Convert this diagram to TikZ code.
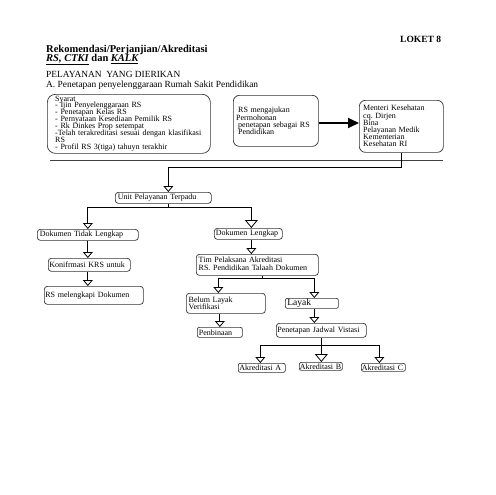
\documentclass[tikz,border=0pt]{standalone}
\usepackage{fontspec}
\setmainfont{Liberation Serif}
\usetikzlibrary{arrows.meta}
\begin{document}
\begin{tikzpicture}[x=1pt,y=-1pt,
  box/.style={draw=black!80, line width=0.7pt, rounded corners=3pt, fill=white,
    inner xsep=2.5pt, inner ysep=0pt, anchor=north west, align=left,
    font=\fontsize{8}{7}\selectfont},
  frame/.style={draw=black!80, line width=0.7pt, rounded corners=6pt, fill=white,
    inner sep=0pt, anchor=north west},
  txt/.style={anchor=base west, inner sep=0pt, align=left,
    execute at begin node={\lineskiplimit=-20pt\relax}},
  hdr/.style={anchor=base west, inner sep=0pt, font=\fontsize{9.4}{10}\selectfont},
  conn/.style={draw=black, line width=0.9pt},
  tri/.style={conn, -{Triangle[open, width=10pt, length=6pt, line width=0.8pt]}},
  bigtri/.style={conn, -{Triangle[open, width=13pt, length=8pt, line width=0.8pt]}},
  bold arrow/.style={draw=black, line width=1.8pt, -{Triangle[width=10pt, length=11pt]}},
]
\useasboundingbox[fill=white] (0,0) rectangle (495,495);

% headers
\node[hdr, font=\bfseries\fontsize{9.5}{10}\selectfont] (loket) at (400,42.6) {LOKET 8};
\node[hdr, font=\bfseries\fontsize{10.5}{11}\selectfont] (judul) at (46,52.5) {Rekomendasi/Perjanjian/Akreditasi};
\node[hdr, font=\bfseries\fontsize{10.5}{11}\selectfont] (sub) at (46,61.5) {\underline{\itshape RS, CTKI} dan \underline{\itshape KALK}};
\node[hdr] (pel) at (46,77.4) {PELAYANAN\ \ YANG DIERIKAN};
\node[hdr] (pen1) at (46,87.5) {A. Penetapan penyelenggaraan Rumah Sakit Pendidikan};

% top row boxes
\node[frame, rounded corners=8pt, minimum width=163pt, minimum height=59pt] (syarat) at (47,94) {};
\node[txt, text width=152pt, font=\fontsize{8}{6.9}\selectfont] (syarat-t) at (55,101) {Syarat\\
- Ijin Penyelenggaraan RS\\
- Penetapan Kelas RS\\
- Pernyataan Kesediaan Pemilik RS\\
- Rk Dinkes Prop setempat\\
-Telah terakreditasi sesuai dengan klasifikasi\\
RS\\
- Profil RS 3(tiga) tahuyn terakhir};

\node[frame, minimum width=85pt, minimum height=51pt] (rs) at (233,95) {};
\node[txt, text width=80pt, font=\fontsize{8}{7.3}\selectfont] (rs-t) at (236,112.8) {\hspace*{2pt}RS mengajukan\\
Permohonan\\
\hspace*{2pt}penetapan sebagai RS\\
\hspace*{2pt}Pendidikan};

\node[frame, minimum width=84pt, minimum height=52pt] (menteri) at (359,100) {};
\node[txt, text width=78pt, font=\fontsize{8}{7.2}\selectfont] (menteri-t) at (363,110.8) {Menteri Kesehatan\\
cq.\ Dirjen\\
Bina\\
Pelayanan Medik\\
Kementerian\\
Kesehatan RI};

\draw[bold arrow] (rs.east |- 0,123) -- (menteri.west |- 0,123);

% separator rule
\draw[black!75, line width=1pt] (50,160) -- (443,160);

% flow boxes
\node[box, text width=91pt, minimum height=11pt] (unit) at (115,192) {\mbox{Unit Pelayanan Terpadu}};
\node[box, text width=96pt, minimum height=11pt] (dtl) at (37,229) {\mbox{Dokumen Tidak Lengkap}};
\node[box, inner xsep=1pt, text width=80pt, minimum height=13pt] (konf) at (48,258) {\mbox{Konifrmasi KRS untuk}};
\node[box, inner xsep=1pt, text width=97pt, minimum height=18pt] (rsmel) at (44,286) {\mbox{RS melengkapi Dokumen}};
\node[box, inner xsep=1.5pt, text width=65pt, minimum height=11pt] (dl) at (214,228) {\mbox{Dokumen Lengkap}};

\node[frame, rounded corners=3pt, minimum width=122pt, minimum height=21pt] (tim) at (196,254) {};
\node[txt, text width=116pt, font=\fontsize{8}{8.4}\selectfont] (tim-t) at (198.5,262) {Tim Pelaksana Akreditasi\\RS. Pendidikan Talaah Dokumen};

\node[frame, rounded corners=3pt, minimum width=79pt, minimum height=20pt] (belum) at (186,293) {};
\node[txt, text width=75pt, font=\fontsize{8}{7}\selectfont] (belum-t) at (188.5,302.5) {Belum Layak\\Verifikasi};

\node[box, inner xsep=2pt, text width=49pt, minimum height=10pt,
  font=\fontsize{9.5}{10}\selectfont, rounded corners=2pt] (layak) at (285,298) {\mbox{Layak}};
\node[box, inner xsep=1.5pt, text width=42pt, minimum height=10pt, rounded corners=2pt] (penb) at (197,327) {\mbox{Penbinaan}};
\node[box, inner xsep=1pt, text width=88pt, minimum height=14pt] (jadwal) at (276,323) {\mbox{Penetapan Jadwal Vistasi}};
\node[box, inner xsep=1pt, text width=45pt, minimum height=9pt, rounded corners=2pt] (aka) at (238,363) {\mbox{Akreditasi A}};
\node[box, inner xsep=0.5pt, text width=42pt, minimum height=8pt, rounded corners=2pt] (akb) at (299,362) {\mbox{Akreditasi B}};
\node[box, inner xsep=0.5pt, text width=43pt, minimum height=8pt, rounded corners=2pt] (akc) at (361,363) {\mbox{Akreditasi C}};

% connectors
\draw[tri] (menteri.south) -- ++(0,15) -| ([xshift=5pt]unit.north);

\draw[conn] ([xshift=5pt]unit.south) -- ++(0,4) coordinate (b1);
\draw[tri] (b1) -| (dtl.north);
\draw[bigtri] (b1) -| ([xshift=3pt]dl.north);

\draw[tri] (dtl.south) -- (dtl.south |- konf.north);
\draw[tri] (dtl.south |- konf.south) -- (dtl.south |- rsmel.north);

\draw[tri] ([xshift=3pt]dl.south) -- ([xshift=3pt]dl.south |- tim.north);

\draw[conn] ([xshift=5pt]tim.south) -- ++(0,3) coordinate (b2);
\draw[tri] (b2) -| ([xshift=-7.5pt]belum.north);
\draw[tri] (b2) -| ([xshift=2.5pt]layak.north);

\draw[tri] (penb.north |- belum.south) -- (penb.north);
\draw[tri] ([xshift=2.5pt]layak.south) -- ([xshift=2.5pt]layak.south |- jadwal.north);

\draw[conn] (jadwal.south) -- ++(0,8) coordinate (b3);
\draw[bigtri] (b3) -- (jadwal.south |- akb.north);
\draw[tri] (b3) -| ([xshift=-1.5pt]aka.north);
\draw[tri] (b3) -| ([xshift=-4pt]akc.north);
\end{tikzpicture}
\end{document}
